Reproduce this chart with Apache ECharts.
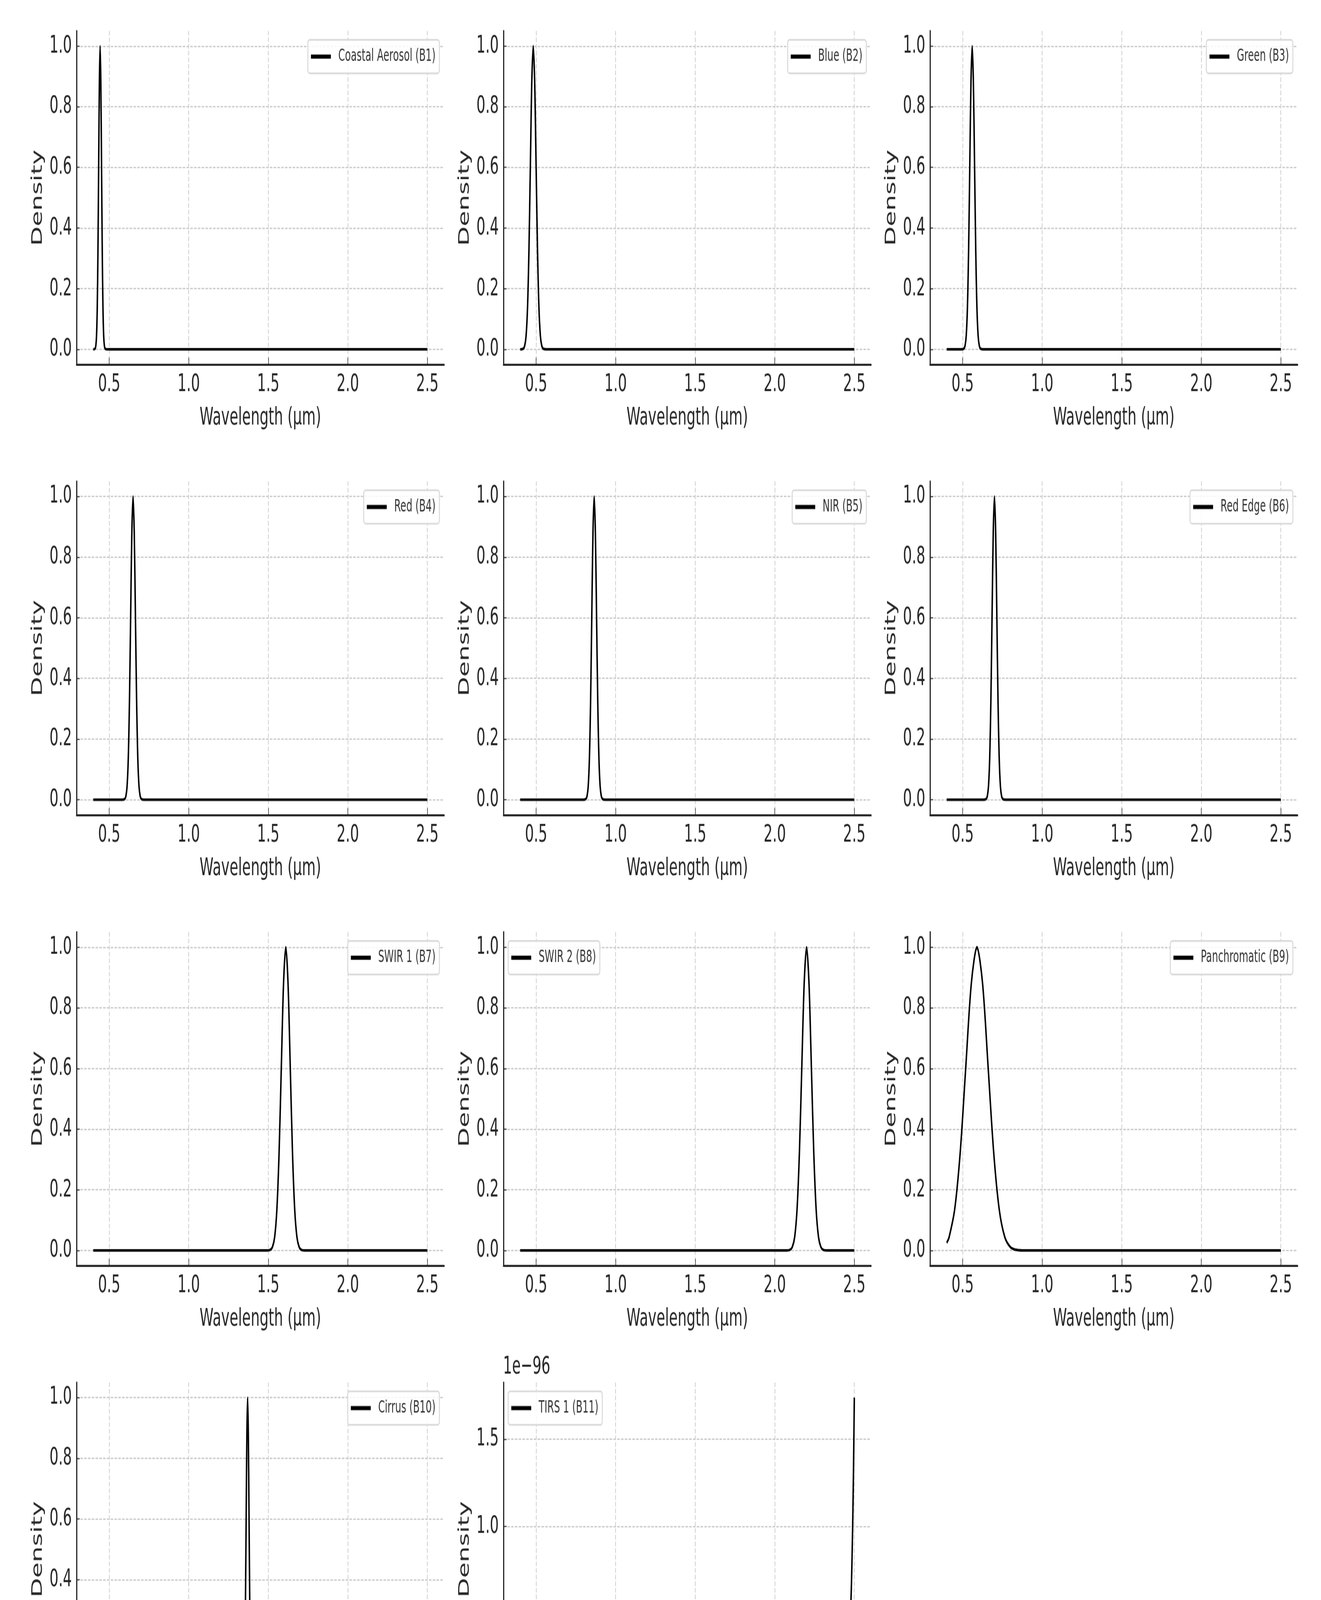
<!DOCTYPE html>
<html>
<head>
<meta charset="utf-8">
<script src="https://cdn.jsdelivr.net/npm/echarts@6/dist/echarts.min.js"></script>
<style>
html,body{margin:0;padding:0;background:#ffffff;overflow:hidden;width:3382px;height:4619px;}
#chart{width:3382px;height:2639px;transform:scaleY(1.750284);transform-origin:0 0;}
</style>
</head>
<body>
<div id="chart"></div>
<script>
// ---------- data ----------
const bandNames = ['Coastal Aerosol (B1)', 'Blue (B2)', 'Green (B3)', 'Red (B4)', 'NIR (B5)',
  'Red Edge (B6)', 'SWIR 1 (B7)', 'SWIR 2 (B8)', 'Panchromatic (B9)', 'Cirrus (B10)', 'TIRS 1 (B11)'];

const xTickLabels = [0.5, 1.0, 1.5, 2.0, 2.5];
const yTickLabels = [0.0, 0.2, 0.4, 0.6, 0.8, 1.0];
const tirsTickLabels = [0.0, 0.5, 1.0, 1.5];
const tirsExponentLabel = '1e\u221296';

// normalised peak profile
const narrowPeakY = [0, 0, 0.0022, 0.0111, 0.0439, 0.1353, 0.3247, 0.6065, 0.8825, 1.0,
  0.8825, 0.6065, 0.3247, 0.1353, 0.0439, 0.0111, 0.0022, 0, 0];

const b1X = [0.4, 0.4025, 0.4115, 0.416, 0.4205, 0.425, 0.4295, 0.434, 0.4385, 0.443,
  0.4475, 0.452, 0.4565, 0.461, 0.4655, 0.47, 0.4745, 0.4835, 2.5];
const b2X = [0.4, 0.401, 0.419, 0.428, 0.437, 0.446, 0.455, 0.464, 0.473, 0.482,
  0.491, 0.5, 0.509, 0.518, 0.527, 0.536, 0.545, 0.563, 2.5];
const b3X = [0.4, 0.4925, 0.5075, 0.515, 0.5225, 0.53, 0.5375, 0.545, 0.5525, 0.56,
  0.5675, 0.575, 0.5825, 0.59, 0.5975, 0.605, 0.6125, 0.6275, 2.5];
const b4X = [0.4, 0.5825, 0.5975, 0.605, 0.6125, 0.62, 0.6275, 0.635, 0.6425, 0.65,
  0.6575, 0.665, 0.6725, 0.68, 0.6875, 0.695, 0.7025, 0.7175, 2.5];
const b5X = [0.4, 0.7975, 0.8125, 0.82, 0.8275, 0.835, 0.8425, 0.85, 0.8575, 0.865,
  0.8725, 0.88, 0.8875, 0.895, 0.9025, 0.91, 0.9175, 0.9325, 2.5];
const b6X = [0.4, 0.6325, 0.6475, 0.655, 0.6625, 0.67, 0.6775, 0.685, 0.6925, 0.70,
  0.7075, 0.715, 0.7225, 0.73, 0.7375, 0.745, 0.7525, 0.7675, 2.5];
const b7X = [0.4, 1.484, 1.512, 1.526, 1.54, 1.554, 1.568, 1.582, 1.596, 1.61,
  1.624, 1.638, 1.652, 1.666, 1.68, 1.694, 1.708, 1.736, 2.5];
const b8X = [0.4, 2.065, 2.095, 2.11, 2.125, 2.14, 2.155, 2.17, 2.185, 2.2,
  2.215, 2.23, 2.245, 2.26, 2.275, 2.29, 2.305, 2.335, 2.5];
const b9X = [0.4, 0.415, 0.45, 0.485, 0.52, 0.555, 0.59, 0.625, 0.66, 0.695,
  0.73, 0.765, 0.8, 0.835, 0.87, 0.905, 2.5];
const b9Y = [0.025, 0.0439, 0.1353, 0.3247, 0.6065, 0.8825, 1.0, 0.8825, 0.6065, 0.3247,
  0.1353, 0.0439, 0.0111, 0.0022, 0.0003, 0, 0];
const b10X = [0.4, 1.3295, 1.3385, 1.343, 1.3475, 1.352, 1.3565, 1.361, 1.3655, 1.37,
  1.3745, 1.379, 1.3835, 1.388, 1.3925, 1.397, 1.4015, 1.4105, 2.5];
// TIRS 1 values in units of 1e-96
const b11X = [0.4, 2.0, 2.3, 2.35, 2.4, 2.42, 2.44, 2.45, 2.46, 2.47, 2.48, 2.485, 2.49, 2.495, 2.5];
const b11Y = [0, 0, 0, 0.0006, 0.0089, 0.0255, 0.0736, 0.1245, 0.212, 0.359, 0.607, 0.79, 1.028, 1.337, 1.738];

// ---------- layout / style ----------
// The reference figure is stretched vertically; the chart is drawn at 1/S height and scaled by CSS.
const S = 1.750284;
const FONT = "'DejaVu Sans','Liberation Sans',sans-serif";
const DARK = '#262626';
const colLeft = [196, 1289, 2381];
const rowTop = [79 / S, 1232 / S, 2386 / S, 3539 / S];
const GW = 941, GH = 854 / S, CW = 3382;

const bands = [
  {x: b1X, y: narrowPeakY}, {x: b2X, y: narrowPeakY}, {x: b3X, y: narrowPeakY},
  {x: b4X, y: narrowPeakY}, {x: b5X, y: narrowPeakY}, {x: b6X, y: narrowPeakY},
  {x: b7X, y: narrowPeakY}, {x: b8X, y: narrowPeakY}, {x: b9X, y: b9Y},
  {x: b10X, y: narrowPeakY}, {x: b11X, y: b11Y}
];
const legendOnLeft = {7: true, 10: true};

const grids = [], xAxes = [], yAxes = [], series = [], legends = [];
bands.forEach((b, i) => {
  const r = Math.floor(i / 3), c = i % 3;
  const left = colLeft[c], top = rowTop[r];
  const isTirs = (i === 10);
  grids.push({left: left, top: top, width: GW, height: GH});
  xAxes.push({
    type: 'value', gridIndex: i, min: 0.295, max: 2.605,
    axisLine: {show: true, onZero: false, lineStyle: {color: DARK, width: 3}},
    axisTick: {show: true, inside: true, length: 10, customValues: xTickLabels,
      lineStyle: {color: DARK, width: 1.4}},
    axisLabel: {customValues: xTickLabels, formatter: v => v.toFixed(1), margin: 12,
      fontSize: 36, fontFamily: FONT, color: DARK},
    splitLine: {show: true, lineStyle: {color: '#cccccc', width: 1.8, type: [6.7, 3]}},
    name: 'Wavelength (\u03bcm)', nameLocation: 'middle', nameGap: 61,
    nameTextStyle: {fontSize: 36, fontFamily: FONT, color: DARK}
  });
  const yt = isTirs ? tirsTickLabels : yTickLabels;
  yAxes.push({
    type: 'value', gridIndex: i,
    min: isTirs ? -0.0869 : -0.05, max: isTirs ? 1.8249 : 1.05,
    axisLine: {show: true, onZero: false, lineStyle: {color: DARK, width: 3}},
    axisTick: {show: true, inside: true, length: 8, customValues: yt,
      lineStyle: {color: DARK, width: 1.4}},
    axisLabel: {customValues: yt, formatter: v => v.toFixed(1), margin: 12,
      fontSize: 36, fontFamily: FONT, color: DARK},
    splitLine: {show: true, lineStyle: {color: '#cccccc', width: 1.8, type: [6.7, 3]}},
    name: 'Density', nameLocation: 'middle', nameGap: 80,
    nameTextStyle: {fontSize: 37, fontFamily: FONT, color: DARK}
  });
  series.push({
    type: 'line', name: bandNames[i], xAxisIndex: i, yAxisIndex: i,
    data: b.x.map((v, k) => [v, b.y[k]]),
    symbol: 'none', showSymbol: false, smooth: 0.3,
    lineStyle: {color: '#000000', width: 3.8}, itemStyle: {color: '#000000'},
    silent: true
  });
  const lg = {
    data: [bandNames[i]], top: top + 13, orient: 'horizontal',
    icon: 'rect', itemWidth: 51, itemHeight: 6,
    padding: [12, 10, 12, 8],
    borderColor: '#d9d9d9', borderWidth: 2.5, borderRadius: 5,
    backgroundColor: 'rgba(255,255,255,0.85)',
    itemStyle: {borderWidth: 0},
    textStyle: {fontSize: 24.5, fontFamily: FONT, color: '#333333', padding: [0, 0, 0, 14]},
    selectedMode: false
  };
  if (legendOnLeft[i]) lg.left = left + 12; else lg.right = CW - (left + GW - 12);
  legends.push(lg);
});

const chart = echarts.init(document.getElementById('chart'), null, {renderer: 'canvas'});
chart.setOption({
  backgroundColor: '#ffffff',
  animation: false,
  title: [{
    text: tirsExponentLabel, left: 1283, top: 3478 / S - 10,
    textStyle: {fontSize: 36, fontWeight: 'normal', fontFamily: FONT, color: DARK}
  }],
  grid: grids, xAxis: xAxes, yAxis: yAxes, legend: legends, series: series
});
</script>
</body>
</html>
